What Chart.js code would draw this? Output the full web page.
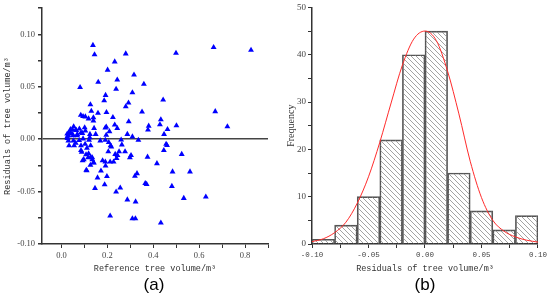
<!DOCTYPE html>
<html>
<head>
<meta charset="utf-8">
<script src="https://cdn.jsdelivr.net/npm/chart.js@4.4.1/dist/chart.umd.min.js"></script>
<style>
  body { margin: 0; width: 550px; height: 296px; background: #fff; position: relative; overflow: hidden; }
  canvas { position: absolute; top: 0; }
  #chartA { left: 0; }
  #chartB { left: 275px; }
  .tag { position: absolute; top: 275px; width: 60px; text-align: center; font: 17px "Liberation Sans", Arial, sans-serif; color: #000; line-height: 20px; }
</style>
</head>
<body>
<canvas id="chartA" width="275" height="296"></canvas>
<canvas id="chartB" width="275" height="296"></canvas>
<div class="tag" style="left:124px">(a)</div>
<div class="tag" style="left:395px">(b)</div>
<script>
// (a) reference volume vs residual
const refVolume = [
  0.137, 0.144, 0.280, 0.499, 0.663, 0.826, 0.232, 0.201, 0.316,
  0.243, 0.160, 0.359, 0.081, 0.238, 0.309, 0.192,
  0.443, 0.186, 0.292, 0.126, 0.280, 0.130, 0.670, 0.351, 0.159, 0.196, 0.084, 0.094, 0.104, 0.139, 0.224,
  0.118, 0.139, 0.433, 0.293, 0.232, 0.429, 0.380, 0.501, 0.723, 0.053, 0.195, 0.191, 0.101, 0.142, 0.243,
  0.209, 0.377, 0.462, 0.064, 0.078, 0.039, 0.104, 0.124, 0.085, 0.149, 0.195, 0.287, 0.447, 0.025, 0.032,
  0.046, 0.309, 0.025, 0.068, 0.123, 0.048, 0.062, 0.040, 0.030, 0.051, 0.069, 0.091, 0.026, 0.094,
  0.030, 0.052, 0.077, 0.120, 0.169, 0.191, 0.260, 0.335, 0.055, 0.085, 0.127, 0.214, 0.460, 0.263,
  0.111, 0.206, 0.456, 0.033, 0.062, 0.103, 0.088, 0.085, 0.217, 0.251, 0.277, 0.234, 0.204, 0.107,
  0.118, 0.127, 0.116, 0.134, 0.092, 0.097, 0.139, 0.126, 0.179, 0.191, 0.192, 0.212, 0.227, 0.240,
  0.244, 0.303, 0.298, 0.375, 0.416, 0.446, 0.524, 0.108, 0.110, 0.172, 0.157, 0.198, 0.320, 0.329,
  0.484, 0.560, 0.188, 0.146, 0.256, 0.365, 0.371, 0.481, 0.238, 0.287, 0.323, 0.533, 0.629, 0.212,
  0.309, 0.322, 0.433, 0.134, 0.141
];
const residual = [
  0.0896, 0.0806, 0.0815, 0.0821, 0.0875, 0.0849, 0.0739, 0.0660, 0.0613,
  0.0566, 0.0544, 0.0525, 0.0494, 0.0478, 0.0444, 0.0419,
  0.0375, 0.0368, 0.0346, 0.0330, 0.0311, 0.0268, 0.0264, 0.0261, 0.0249, 0.0255, 0.0230, 0.0217, 0.0214, 0.0205, 0.0208,
  0.0195, 0.0176, 0.0186, 0.0167, 0.0136, 0.0139, 0.0126, 0.0129, 0.0120, 0.0120, 0.0117, 0.0108, 0.0110, 0.0104, 0.0104,
  0.0073, 0.0089, 0.0094, 0.0085, 0.0098, 0.0092, 0.0079, 0.0047, 0.0063, 0.0047, 0.0038, 0.0047, 0.0047, 0.0051, 0.0060,
  0.0051, 0.0023, 0.0023, 0.0035, 0.0016, 0.0089, 0.0089, 0.0057, 0.0035, 0.0035, 0.0047, 0.0057, 0.0009, 0.0004,
  -0.0015, -0.0015, -0.0012, -0.0009, -0.0015, -0.0009, -0.0006, -0.0009, -0.0062, -0.0062, -0.0062, -0.0062, -0.0059, -0.0053,
  -0.0085, -0.0031, -0.0047, -0.0062, -0.0038, -0.0047, -0.0123, -0.0107, -0.0072, -0.0119, -0.0119, -0.0144, -0.0119, -0.0147,
  -0.0138, -0.0170, -0.0176, -0.0176, -0.0204, -0.0194, -0.0223, -0.0248, -0.0204, -0.0217, -0.0255, -0.0217, -0.0217, -0.0182,
  -0.0154, -0.0154, -0.0176, -0.0170, -0.0232, -0.0107, -0.0144, -0.0295, -0.0300, -0.0302, -0.0368, -0.0355, -0.0352, -0.0327,
  -0.0311, -0.0311, -0.0434, -0.0468, -0.0465, -0.0421, -0.0430, -0.0449, -0.0503, -0.0578, -0.0597, -0.0563, -0.0550, -0.0732,
  -0.0758, -0.0758, -0.0798, -0.0195, -0.0226
];

// (b) histogram of residuals, bin centres and counts
const binMid = [-0.09, -0.07, -0.05, -0.03, -0.01, 0.01, 0.03, 0.05, 0.07, 0.09];
const freq = [1, 4, 10, 22, 40, 45, 15, 7, 3, 6];

// fitted normal curve, heights
const curveX = [-0.10, -0.09, -0.08, -0.07, -0.06, -0.05, -0.04, -0.03, -0.02, -0.01, 0.00,
                0.01, 0.02, 0.03, 0.04, 0.05, 0.06, 0.07, 0.08, 0.09, 0.10];
const curveY = [0.5, 1.1, 2.4, 4.6, 8.6, 14.2, 21.5, 29.8, 37.8, 43.3, 45.0,
                43.0, 36.5, 27.5, 17.5, 9.8, 5.0, 2.7, 1.5, 0.8, 0.4];

const tickFontA = { family: 'Liberation Serif', size: 8.5 };
const titleFont = { family: 'Liberation Mono', size: 8.5 };
const axisColor = '#333';
const fmt = (v, d) => (Math.abs(v) < 1e-9 ? 0 : v).toFixed(d);
const isMult = (v, s) => Math.abs(v / s - Math.round(v / s)) < 1e-6;

new Chart(document.getElementById('chartA'), {
  type: 'scatter',
  data: {
    datasets: [{
      data: refVolume.map((v, i) => ({ x: v, y: residual[i] })),
      pointStyle: 'triangle',
      pointRadius: 3.4,
      backgroundColor: '#0000ff',
      borderColor: '#0000ff',
      borderWidth: 0
    }]
  },
  options: {
    responsive: false,
    animation: false,
    layout: { padding: { top: 5, right: 7, bottom: 16, left: 0 } },
    plugins: { legend: { display: false }, tooltip: { enabled: false } },
    scales: {
      x: {
        type: 'linear', min: -0.085, max: 0.9,
        afterFit: s => { s.height = 36; },
        ticks: { stepSize: 0.1, includeBounds: false, maxRotation: 0, autoSkip: false, padding: 3,
                 callback: v => isMult(v, 0.2) ? fmt(v, 1) : '', font: tickFontA, color: '#444' },
        grid: { drawOnChartArea: false, tickLength: 4, tickColor: axisColor },
        border: { color: axisColor, width: 1.5 },
        title: { display: true, text: 'Reference tree volume/m³', font: titleFont, color: '#333',
                 padding: { top: 0, bottom: 6 } }
      },
      y: {
        min: -0.1, max: 0.125,
        afterFit: s => { s.width = 42; },
        ticks: { stepSize: 0.025, includeBounds: false, autoSkip: false, padding: 3,
                 callback: v => isMult(v, 0.05) ? fmt(v, 2) : '', font: tickFontA, color: '#444' },
        grid: {
          color: c => (c.tick && Math.abs(c.tick.value) < 1e-9) ? '#444' : 'transparent',
          lineWidth: 1.5, tickLength: 4, tickColor: axisColor
        },
        border: { color: axisColor, width: 1.5 },
        title: { display: true, text: 'Residuals of tree volume/m³', font: titleFont, color: '#333',
                 padding: { top: 3, bottom: 0 } }
      }
    }
  }
});

// hatch fill for the histogram bars
const tile = document.createElement('canvas');
tile.width = 5; tile.height = 5;
const tc = tile.getContext('2d');
tc.strokeStyle = '#8c8c8c';
tc.lineWidth = 0.8;
tc.beginPath();
tc.moveTo(0, 0); tc.lineTo(5, 5);
tc.moveTo(-1, 4); tc.lineTo(1, 6);
tc.moveTo(4, -1); tc.lineTo(6, 1);
tc.stroke();
const hatch = tc.createPattern(tile, 'repeat');

new Chart(document.getElementById('chartB'), {
  type: 'bar',
  data: {
    datasets: [
      {
        type: 'line',
        data: curveX.map((x, i) => ({ x: x, y: curveY[i] })),
        borderColor: '#ff2b2b',
        borderWidth: 1,
        pointRadius: 0,
        cubicInterpolationMode: 'monotone',
        fill: false,
        order: 0
      },
      {
        type: 'bar',
        data: binMid.map((x, i) => ({ x: x, y: freq[i] })),
        backgroundColor: hatch,
        borderColor: '#555',
        borderWidth: 1,
        barPercentage: 1,
        categoryPercentage: 1,
        order: 1
      }
    ]
  },
  options: {
    responsive: false,
    animation: false,
    layout: { padding: { top: 5, right: 11, bottom: 16, left: 0 } },
    plugins: { legend: { display: false }, tooltip: { enabled: false } },
    scales: {
      x: {
        type: 'linear', min: -0.1, max: 0.1, offset: false,
        afterFit: s => { s.height = 36; },
        ticks: { stepSize: 0.025, includeBounds: false, maxRotation: 0, autoSkip: false, padding: 3,
                 callback: v => isMult(v, 0.05) ? fmt(v, 2) : '',
                 font: { family: 'Liberation Mono', size: 7.5 }, color: '#444' },
        grid: { drawOnChartArea: false, offset: false, tickLength: 4, tickColor: axisColor },
        border: { color: axisColor, width: 1.5 },
        title: { display: true, text: 'Residuals of tree volume/m³', font: titleFont, color: '#333',
                 padding: { top: 0, bottom: 6 } }
      },
      y: {
        min: 0, max: 50,
        afterFit: s => { s.width = 37; },
        ticks: { stepSize: 5, autoSkip: false, padding: 2,
                 callback: v => isMult(v, 10) ? v : '',
                 font: { family: 'Liberation Serif', size: 9 }, color: '#444' },
        grid: { drawOnChartArea: false, tickLength: 4, tickColor: axisColor },
        border: { color: axisColor, width: 1.5 },
        title: { display: true, text: 'Frequency', font: { family: 'Liberation Serif', size: 10 }, color: '#333',
                 padding: { top: 10, bottom: 0 } }
      }
    }
  }
});
</script>
</body>
</html>
